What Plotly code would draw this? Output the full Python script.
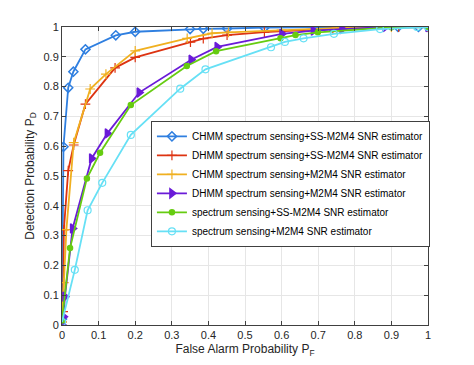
import plotly.graph_objects as go

names = [
    "CHMM spectrum sensing+SS-M2M4 SNR estimator",
    "DHMM spectrum sensing+SS-M2M4 SNR estimator",
    "CHMM spectrum sensing+M2M4 SNR estimator",
    "DHMM spectrum sensing+M2M4 SNR estimator",
    "spectrum sensing+SS-M2M4 SNR estimator",
    "spectrum sensing+M2M4 SNR estimator",
]

chmm_ss_x = [0, 0.004, 0.017, 0.031, 0.064, 0.147, 0.2, 0.35, 0.386, 0.451, 0.553, 0.736, 0.918, 0.974, 1.0]
chmm_ss_y = [0.02, 0.598, 0.796, 0.850, 0.925, 0.972, 0.984, 0.993, 0.994, 0.995, 0.998, 1.0, 1.0, 1.0, 1.0]

dhmm_ss_x = [0, 0.003, 0.005, 0.017, 0.032, 0.064, 0.145, 0.2, 0.351, 0.386, 0.451, 0.553, 0.74, 0.92, 1.0]
dhmm_ss_y = [0.01, 0.045, 0.319, 0.518, 0.604, 0.741, 0.863, 0.898, 0.949, 0.961, 0.973, 0.983, 0.995, 1.0, 1.0]

chmm_m_x = [0, 0.005, 0.012, 0.032, 0.077, 0.12, 0.2, 0.342, 0.41, 0.455, 0.6, 0.75, 0.9, 1.0]
chmm_m_y = [0.01, 0.142, 0.32, 0.612, 0.792, 0.842, 0.920, 0.962, 0.979, 0.982, 0.99, 0.996, 1.0, 1.0]

dhmm_m_x = [0, 0.004, 0.008, 0.029, 0.081, 0.124, 0.211, 0.353, 0.424, 0.601, 0.687, 0.765, 0.883, 1.0]
dhmm_m_y = [0.0, 0.028, 0.095, 0.324, 0.559, 0.643, 0.78, 0.89, 0.933, 0.977, 0.988, 0.993, 1.0, 1.0]

ss_ss_x = [0, 0.022, 0.068, 0.104, 0.188, 0.341, 0.421, 0.597, 0.638, 0.699, 0.90, 1.0]
ss_ss_y = [0.015, 0.258, 0.492, 0.578, 0.738, 0.869, 0.919, 0.962, 0.973, 0.982, 0.999, 1.0]

ss_m_x = [0, 0.035, 0.07, 0.11, 0.188, 0.323, 0.392, 0.571, 0.609, 0.66, 0.743, 0.869, 0.97, 1.0]
ss_m_y = [0.01, 0.185, 0.385, 0.477, 0.638, 0.793, 0.858, 0.932, 0.95, 0.962, 0.977, 0.993, 1.0, 1.0]

tick_vals = [0, 0.1, 0.2, 0.3, 0.4, 0.5, 0.6, 0.7, 0.8, 0.9, 1]
tick_text = ["0", "0.1", "0.2", "0.3", "0.4", "0.5", "0.6", "0.7", "0.8", "0.9", "1"]

xs = [chmm_ss_x, dhmm_ss_x, chmm_m_x, dhmm_m_x, ss_ss_x, ss_m_x]
ys = [chmm_ss_y, dhmm_ss_y, chmm_m_y, dhmm_m_y, ss_ss_y, ss_m_y]
colors = ["#2F7FE0", "#DD3311", "#F0B020", "#6A1BD8", "#66CC11", "#66E0F5"]
symbols = ["diamond-open", "cross-thin-open", "cross-thin-open", "triangle-right", "circle", "circle-open"]
msizes = [7, 7, 7, 8, 5, 7]
mlw = [1.5, 1.2, 1.2, 1.5, 1.5, 1.2]

fig = go.Figure()
for n, x, y, c, s, ms, lw in zip(names, xs, ys, colors, symbols, msizes, mlw):
    fig.add_trace(go.Scatter(
        x=x, y=y, name=n, mode="lines+markers",
        line=dict(color=c, width=1.8),
        marker=dict(symbol=s, size=ms, color=c, line=dict(color=c, width=lw)),
    ))

axis_common = dict(
    showgrid=True, gridcolor="#E6E6E6", gridwidth=1,
    showline=True, linecolor="#404040", linewidth=1, mirror="ticks",
    ticks="inside", ticklen=4, tickcolor="#404040",
    zeroline=False, tickfont=dict(size=11, color="#262626"),
    automargin=False, range=[0, 1], tickvals=tick_vals, ticktext=tick_text,
)

fig.update_xaxes(title=dict(text="False Alarm Probability P<sub>F</sub>",
                            font=dict(size=12, color="#262626"), standoff=4),
                 **axis_common)
fig.update_yaxes(title=dict(text="Detection Probability P<sub>D</sub>",
                            font=dict(size=12, color="#262626"), standoff=6),
                 **axis_common)

fig.update_layout(
    width=474, height=365,
    margin=dict(l=62, r=46, t=27, b=40),
    paper_bgcolor="white", plot_bgcolor="white",
    font=dict(family="Liberation Sans, Arial, sans-serif", color="#262626"),
    legend=dict(x=0.243, y=0.685, xanchor="left", yanchor="top",
                bgcolor="white", bordercolor="#404040", borderwidth=1,
                font=dict(size=10, color="#000000"), tracegroupgap=0,
                itemwidth=30),
    showlegend=True,
)

fig.write_html("out.html", config={"displayModeBar": False},
               post_script="document.body.style.margin='0';")
